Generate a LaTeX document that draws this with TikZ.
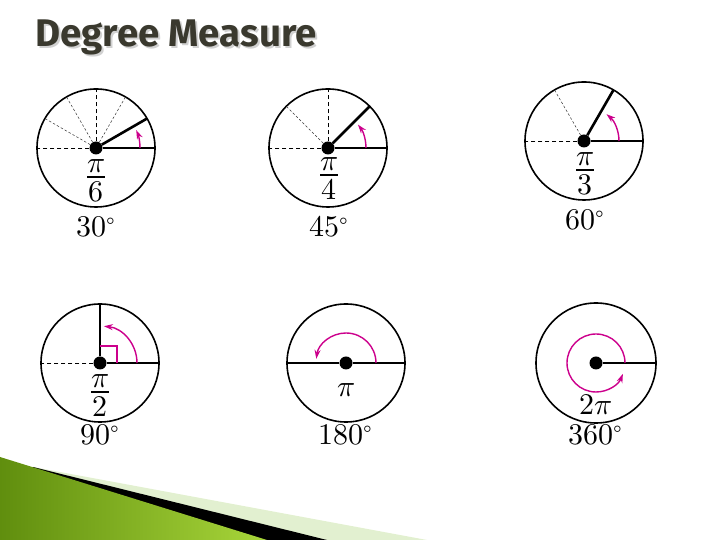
\documentclass[tikz,border=0pt]{standalone}
\usepackage{fontspec}
\usepackage{unicode-math}
\setmathfont{Latin Modern Math}
\newfontfamily\titlefont{Fira Sans}
\usetikzlibrary{arrows.meta}
\definecolor{sweepink}{RGB}{204,0,140}
\definecolor{titleink}{RGB}{58,57,46}
\definecolor{palegreen}{RGB}{226,240,208}
\definecolor{darkleaf}{RGB}{96,142,14}
\definecolor{lightleaf}{RGB}{168,214,58}
\newcommand{\radfrac}[2]{\frac{\displaystyle #1}{\displaystyle\mathstrut #2}}
\begin{document}
\begin{tikzpicture}[x=1pt, y=1pt,
	rim/.style = {line width=1.6pt},
	ray/.style = {line width=2.6pt},
	guide/.style = {line width=0.8pt, dash pattern=on 4pt off 3pt},
	faint/.style = {line width=0.5pt, dash pattern=on 2.5pt off 2pt, black!80},
	dot/.style = {circle, fill, inner sep=0pt, minimum size=13pt},
	sweep/.style = {sweepink, line width=1.4pt, -{Stealth[length=9pt,width=6pt]}},
	lbl/.style = {font=\fontsize{30}{33}\selectfont, inner sep=0pt, anchor=base}]
	\useasboundingbox (0,0) rectangle (720,540);
	
	% corner band
	\fill[palegreen] (33,73) -- (427,0) -- (0,0) -- cycle;
	\fill[black] (33,73) -- (327,0) -- (0,0) -- cycle;
	\shade[left color=darkleaf, right color=lightleaf] (0,83) -- (267,0) -- (0,0) -- cycle;
	
	% title
	\node[anchor=base west, inner sep=0pt, text=black!18, font=\titlefont\bfseries\fontsize{38.5}{42}\selectfont] at (37,491) {Degree Measure};
	\node[anchor=base west, inner sep=0pt, text=titleink, font=\titlefont\bfseries\fontsize{38.5}{42}\selectfont] (title) at (35,493) {Degree Measure};
	
	% 30 degrees
	\node[dot] (o1) at (96,392) {};
	\draw[rim] (o1.center) circle[radius=59pt];
	\foreach \a in {60,120,150} \draw[faint] (o1) -- ++(\a:59pt);
	\foreach \a in {90,180} \draw[guide] (o1) -- ++(\a:59pt);
	\draw[ray] (o1) -- ++(0:59pt);
	\draw[ray] (o1) -- ++(30:59pt);
	\draw[sweep] (o1.center) ++(44pt,0) arc[start angle=0, end angle=24, radius=44pt];
	\node[lbl] (f1) at (96,355.5) {$\radfrac{\pi}{6}$};
	\node[lbl] (g1) at (96,303) {$30^\circ$};
	
	% 45 degrees
	\node[dot] (o2) at (328,392) {};
	\draw[rim] (o2.center) circle[radius=59pt];
	\draw[faint] (o2) -- ++(135:59pt);
	\foreach \a in {90,180} \draw[guide] (o2) -- ++(\a:59pt);
	\draw[ray] (o2) -- ++(0:59pt);
	\draw[ray] (o2) -- ++(45:59pt);
	\draw[sweep] (o2.center) ++(38pt,0) arc[start angle=0, end angle=38, radius=38pt];
	\node[lbl] (f2) at (329,357.5) {$\radfrac{\pi}{4}$};
	\node[lbl] (g2) at (329,303) {$45^\circ$};
	
	% 60 degrees
	\node[dot] (o3) at (584,399) {};
	\draw[rim] (o3.center) circle[radius=59pt];
	\draw[faint] (o3) -- ++(120:59pt);
	\draw[guide] (o3) -- ++(180:59pt);
	\draw[ray] (o3) -- ++(0:59pt);
	\draw[ray] (o3) -- ++(60:59pt);
	\draw[sweep] (o3.center) ++(35pt,0) arc[start angle=0, end angle=50, radius=35pt];
	\node[lbl] (f3) at (585,362.5) {$\radfrac{\pi}{3}$};
	\node[lbl] (g3) at (585,310) {$60^\circ$};
	
	% 90 degrees
	\node[dot] (o4) at (100,177) {};
	\draw[rim] (o4.center) circle[radius=59pt];
	\draw[guide] (o4) -- ++(180:59pt);
	\draw[ray] (o4) -- ++(0:59pt);
	\draw[ray] (o4) -- ++(90:59pt);
	\draw[sweepink, line width=1.2pt] (o4.center) ++(17pt,0) -- ++(0,17pt) -- ++(-17pt,0);
	\draw[sweep] (o4.center) ++(37pt,0) arc[start angle=0, end angle=84, radius=37pt];
	\node[lbl] (f4) at (100,140.5) {$\radfrac{\pi}{2}$};
	\node[lbl] (g4) at (100,95) {$90^\circ$};
	
	% 180 degrees
	\node[dot] (o5) at (346,177) {};
	\draw[rim] (o5.center) circle[radius=59pt];
	\draw[ray] (o5) -- ++(0:59pt);
	\draw[ray] (o5) -- ++(180:59pt);
	\draw[sweep] (o5.center) ++(30pt,0) arc[start angle=0, end angle=172, radius=30pt];
	\node[lbl] (f5) at (346,143) {$\pi$};
	\node[lbl] (g5) at (346,95) {$180^\circ$};
	
	% 360 degrees
	\node[dot] (o6) at (596,177) {};
	\draw[rim] (o6.center) circle[radius=60pt];
	\draw[ray] (o6) -- ++(0:60pt);
	\draw[sweep] (o6.center) ++(29pt,0) arc[start angle=0, end angle=338, radius=29pt];
	\node[lbl] (f6) at (596,125) {$2\pi$};
	\node[lbl] (g6) at (596,95) {$360^\circ$};
\end{tikzpicture}
\end{document}
